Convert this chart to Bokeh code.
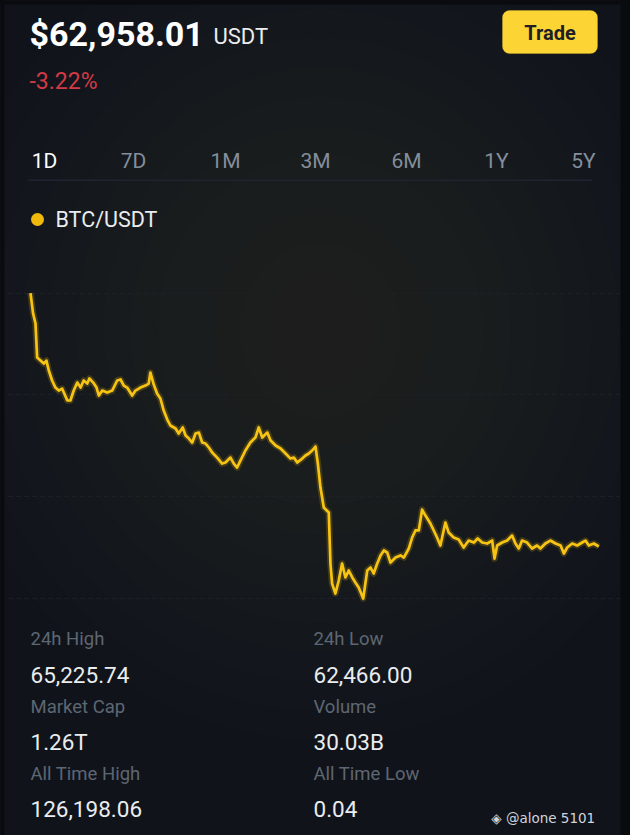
import numpy as np
from bokeh.plotting import figure
from bokeh.models import Range1d, Label, BoxAnnotation, FixedTicker, GlobalInlineStyleSheet
from bokeh.embed import file_html
from bokeh.resources import INLINE

# ---------------- data ----------------
hours = [0.00, 0.11, 0.21, 0.28, 0.42, 0.56, 0.67, 0.77, 0.91, 1.05, 1.19, 1.33, 1.55, 1.68,
         1.82, 1.97, 2.11, 2.24, 2.39, 2.48, 2.64, 2.78, 2.88, 3.02, 3.23, 3.44, 3.65, 3.79,
         3.93, 4.07, 4.28, 4.42, 4.63, 4.84, 4.98, 5.05, 5.19, 5.33, 5.47, 5.61, 5.76, 5.89,
         6.11, 6.24, 6.41, 6.53, 6.67, 6.81, 6.95, 7.09, 7.23, 7.37, 7.51, 7.65, 7.86, 8.07,
         8.21, 8.42, 8.56, 8.70, 8.84, 9.05, 9.26, 9.47, 9.61, 9.76, 9.97, 10.11, 10.32, 10.53,
         10.74, 10.95, 11.09, 11.23, 11.44, 11.58, 11.72, 11.86, 12.00, 12.10, 12.21, 12.35,
         12.56, 12.63, 12.70, 12.84, 12.98, 13.12, 13.26, 13.40, 13.55, 13.68, 13.82, 14.01,
         14.18, 14.32, 14.45, 14.60, 14.74, 14.88, 15.02, 15.16, 15.37, 15.58, 15.72, 15.93,
         16.07, 16.21, 16.35, 16.49, 16.63, 16.84, 16.98, 17.12, 17.26, 17.47, 17.61, 17.82,
         18.03, 18.24, 18.45, 18.67, 18.83, 19.02, 19.23, 19.44, 19.54, 19.65, 19.86, 20.07,
         20.28, 20.42, 20.56, 20.70, 20.91, 21.12, 21.33, 21.47, 21.68, 21.89, 22.11, 22.32,
         22.46, 22.60, 22.81, 23.02, 23.23, 23.37, 23.51, 23.72, 23.93]
prices = [65226, 65042, 64952, 64644, 64617, 64590, 64617, 64527, 64437, 64373, 64346, 64364, 64256, 64256,
          64346, 64418, 64373, 64437, 64409, 64455, 64418, 64373, 64301, 64346, 64328, 64346, 64437, 64446,
          64391, 64373, 64301, 64346, 64373, 64391, 64409, 64509, 64400, 64319, 64274, 64165, 64084, 64030,
          64003, 63957, 64012, 63939, 63912, 63876, 63957, 63966, 63876, 63867, 63831, 63786, 63740, 63686,
          63695, 63740, 63686, 63650, 63713, 63804, 63876, 63921, 64012, 63921, 63966, 63894, 63849, 63822,
          63777, 63731, 63740, 63695, 63731, 63759, 63777, 63804, 63840, 63686, 63469, 63288,
          63243, 62782, 62601, 62511, 62629, 62782, 62656, 62719, 62656, 62610, 62565, 62466,
          62719, 62746, 62692, 62782, 62855, 62900, 62882, 62791, 62836, 62855, 62836, 62918,
          63017, 63081, 63081, 63270, 63216, 63144, 63081, 63017, 62945, 63153, 63062, 63017,
          62999, 62927, 62990, 62972, 63008, 62972, 62963, 62990, 62827, 62945, 62972, 62990,
          63035, 62963, 62918, 62990, 62972, 62918, 62945, 62918, 62963, 62990, 62963, 62945,
          62873, 62927, 62963, 62945, 62972, 62990, 62945, 62963, 62936]

symbol = "BTC/USDT"
last_price = "$62,958.01"
quote = "USDT"
change = "-3.22%"
periods = ["1D", "7D", "1M", "3M", "6M", "1Y", "5Y"]
stat_labels = ["24h High", "24h Low", "Market Cap", "Volume", "All Time High", "All Time Low"]
stat_values = ["65,225.74", "62,466.00", "1.26T", "30.03B", "126,198.06", "0.04"]
watermark = "\u25c8 @alone  5101"

# ---------------- layout / mapping ----------------
W, H, M = 630, 835, 0
X_L, X_R = 30.0, 598.3      # page px of first / last sample
Y_T, Y_B = 292.7, 598.0     # page px of max / min price
hpp = (hours[-1] - hours[0]) / (X_R - X_L)
ppp = (max(prices) - min(prices)) / (Y_B - Y_T)
x0 = hours[0] - (X_L - M) * hpp
x1 = x0 + W * hpp
y1 = max(prices) + (Y_T - M) * ppp
y0 = y1 - H * ppp


def sx(px):
    return x0 + (px - M) * hpp


def sy(py):
    return y1 - (py - M) * ppp


CARD = "#10141a"
EDGE = "#090b0e"
FONT = "Roboto"
WHITE = "#eaecef"
GREY = "#848e9c"
DIM = "#5e6673"
YELLOW = "#f7c414"

p = figure(width=W, height=H, x_range=Range1d(x0, x1), y_range=Range1d(y0, y1),
           output_backend="svg", toolbar_location=None, min_border=0,
           x_axis_location=None, y_axis_location=None,
           background_fill_color=CARD, border_fill_color=CARD, outline_line_color=None)
p.stylesheets = [GlobalInlineStyleSheet(css="html, body { background: #090b0e; }")]
p.xgrid.visible = False
p.ygrid.ticker = FixedTicker(ticks=list(np.linspace(min(prices), max(prices), 4)))
p.ygrid.grid_line_color = "#262d38"
p.ygrid.grid_line_alpha = 0.5
p.ygrid.grid_line_dash = "4 4"
p.ygrid.grid_line_width = 1

# soft radial lightening of the card
for k in range(14):
    f = 1.0 - k / 14.0
    p.ellipse(x=[sx(320)], y=[sy(330)], width=760 * f * hpp, height=820 * f * ppp,
              fill_color="#2c3442", fill_alpha=0.035, line_color=None)

# darker card edges
for l, r, t, b in [(0, 4, 0, 835), (620, 630, 0, 835), (0, 630, 0, 4)]:
    p.add_layout(BoxAnnotation(left=sx(l), right=sx(r), top=sy(t), bottom=sy(b),
                               fill_color=EDGE, fill_alpha=1, line_color=None))

# separator under period tabs
p.add_layout(BoxAnnotation(left=sx(28), right=sx(592), top=sy(179), bottom=sy(180.5),
                           fill_color="#1f2530", fill_alpha=1, line_color=None))

# price line with glow
p.line(hours, prices, line_color="#f0b90b", line_width=6.5, line_alpha=0.2, line_join="round")
p.line(hours, prices, line_color=YELLOW, line_width=2.7, line_join="round")


def lab(text, px, py, size, color, weight="normal", align="left", font=FONT):
    p.add_layout(Label(x=sx(px), y=sy(py), text=text, text_font=font,
                       text_font_size=f"{size}px", text_color=color,
                       text_font_style=weight, text_align=align,
                       text_baseline="middle"))


# header
lab(last_price, 29, 33, 34, "#ffffff", "bold")
lab(quote, 213, 36, 22, WHITE)
lab(change, 29, 81, 23, "#d23a46")

# trade button
p.add_layout(BoxAnnotation(left=sx(502), right=sx(597), top=sy(10), bottom=sy(53),
                           fill_color="#fcd535", fill_alpha=1, line_color="#e8c22a",
                           border_radius=7))
lab("Trade", 549.5, 32, 20, "#1e2026", "bold", "center")

# period tabs
tab_x = [44, 133, 225, 315, 406, 496, 583]
for i, (t, tx) in enumerate(zip(periods, tab_x)):
    lab(t, tx, 160, 21, "#ffffff" if i == 0 else GREY, "normal", "center")

# legend
p.scatter([sx(37)], [sy(219)], size=13, fill_color="#f0b90b", line_color=None)
lab(symbol, 55, 219, 21.5, WHITE)

# stats
col_x = [30, 313]
lab_y = [638, 706, 773]
val_y = [674, 741, 808]
for i, (l, v) in enumerate(zip(stat_labels, stat_values)):
    cx = col_x[i % 2]
    r = i // 2
    lab(l, cx, lab_y[r], 18.5, DIM)
    lab(v, cx, val_y[r], 22.5, WHITE)

lab(watermark, 599, 817, 13.5, "#d0d4da", "normal", "right", "DejaVu Sans")

open("out.html", "w").write(file_html(p, INLINE))
